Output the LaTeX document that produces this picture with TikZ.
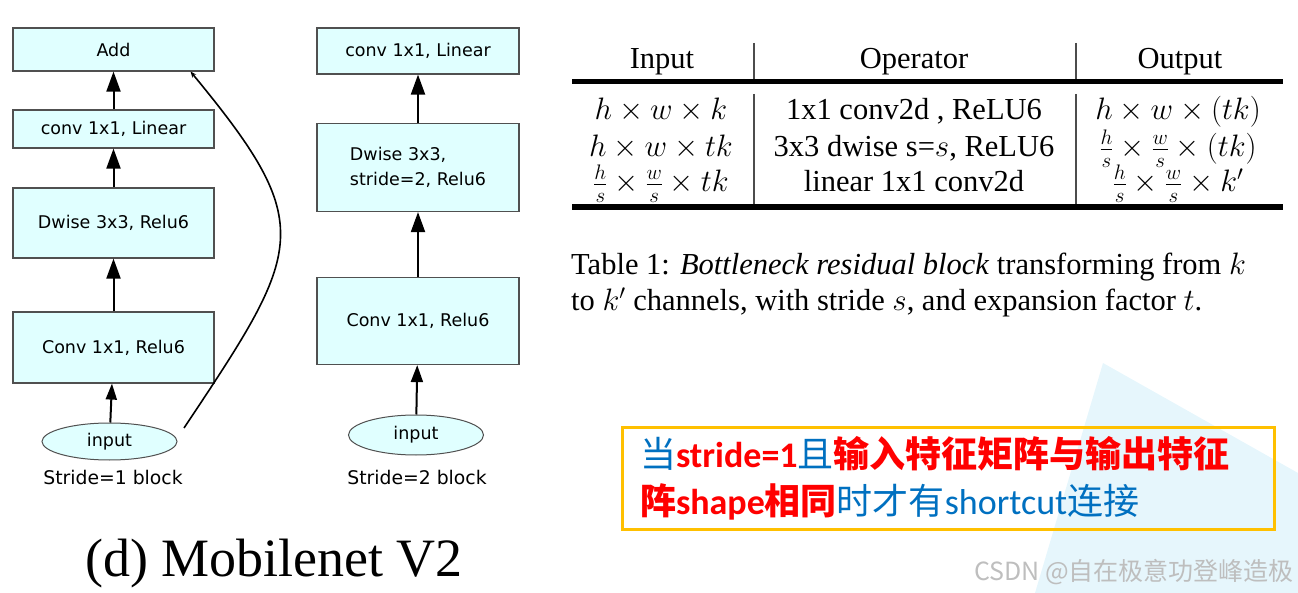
\RequirePackage{fix-cm}
\documentclass[tikz,border=0pt]{standalone}
\usepackage{fontspec}
\setmainfont{Liberation Serif}
\newfontfamily\dejavu{DejaVu Sans}
\newfontfamily\cjk{Noto Sans CJK SC}
\newfontfamily\carlito{Carlito}
\DeclareMathSizes{30.5}{31}{21}{16}
\usetikzlibrary{shapes.geometric,arrows.meta}
\definecolor{boxcyan}{RGB}{224,255,255}
\definecolor{boxline}{RGB}{80,80,80}
\definecolor{cred}{RGB}{255,0,0}
\definecolor{cblue}{RGB}{0,112,192}
\definecolor{corange}{RGB}{255,192,0}
\definecolor{wmblue}{RGB}{230,246,252}
\definecolor{wmgray}{RGB}{190,190,190}
\newcommand{\hlred}[1]{{\color{cred}\bfseries #1}}
\newcommand{\hlblue}[1]{{\color{cblue}#1}}
\begin{document}
\begin{tikzpicture}[x=1pt,y=-1pt,
    box/.style={draw=boxline,line width=1.2pt,fill=boxcyan,inner sep=0pt,
      font=\dejavu\fontsize{17.5}{25}\selectfont},
    oval/.style={ellipse,draw=boxline,line width=1pt,fill=boxcyan,
      minimum width=135pt,inner sep=0pt,font=\dejavu\fontsize{17.5}{25}\selectfont},
    arr/.style={-{Triangle[length=20pt,width=14pt]},line width=2pt},
    tab/.style={anchor=base,inner sep=0pt,font=\fontsize{30.5}{36}\selectfont},
    note/.style={draw=corange,line width=3pt,minimum height=102pt,text width=616pt,
      inner xsep=18pt,align=left,font=\cjk\fontsize{36}{47}\selectfont},
  ]
  \useasboundingbox (0,0) rectangle (1298,593);
  \fill[wmblue] (1103,363) -- (1298,473) -- (1298,593) -- (1035,593) -- cycle;
  % stride 1 block
  \draw
    (113.5,49.5) node[box,minimum width=201pt,minimum height=43pt] (add) {Add}
    (113.5,129) node[box,minimum width=201pt,minimum height=38pt] (lin1) {conv 1x1, Linear}
    (113.5,223) node[box,minimum width=201pt,minimum height=70pt] (dw1) {Dwise 3x3, Relu6}
    (113.5,347.5) node[box,minimum width=201pt,minimum height=71pt] (ex1) {Conv 1x1, Relu6}
    (109.5,441.5) node[oval,minimum height=37pt] (in1) {input}
    (113,477) node[font=\dejavu\fontsize{18.8}{25}\selectfont] (lab1) {Stride=1 block};
  % stride 2 block
  \draw
    (418,51) node[box,minimum width=202pt,minimum height=46pt] (lin2) {conv 1x1, Linear}
    (418,167.5) node[box,minimum width=202pt,minimum height=88pt,align=left] (dw2) {Dwise 3x3,\\stride=2, Relu6}
    (418,321) node[box,minimum width=202pt,minimum height=87pt] (ex2) {Conv 1x1, Relu6}
    (416,435) node[oval,minimum height=40pt] (in2) {input}
    (417,477) node[font=\dejavu\fontsize{18.8}{25}\selectfont] (lab2) {Stride=2 block};
  \coordinate (sc) at (184,428);
  \begin{scope}[arr]
    \draw (lin1) to (add);
    \draw (dw1) to (lin1);
    \draw (ex1) to (dw1);
    \draw[-{Triangle[length=16pt,width=11pt]}] (in1) to (ex1);
    \draw (dw2) to (lin2);
    \draw (ex2) to (dw2);
    \draw[-{Triangle[length=17pt,width=12pt]}] (in2) to (ex2);
  \end{scope}
  \draw[line width=1.6pt,-{Stealth[length=6pt,width=5pt]}]
    (sc) .. controls (304,248) and (318,226) .. (add.-16);
  \node[font=\fontsize{54}{60}\selectfont,anchor=base] (title) at (274,576) {(d) Mobilenet V2};
  % table
  \draw[line width=5pt] (572,82) -- (1283,82);
  \draw[line width=6pt] (572,207) -- (1283,207);
  \draw[line width=1.3pt,black!70] (754,43) -- (754,79) (754,94) -- (754,204)
    (1076,43) -- (1076,79) (1076,94) -- (1076,204);
  \draw
    (662,69) node[tab] (hin) {Input}
    (914,69) node[tab] (hop) {Operator}
    (1180,69) node[tab] (hout) {Output}
    (661,120) node[tab] (i1) {$h\times w\times k$}
    (661,157) node[tab] (i2) {$h\times w\times tk$}
    (661,192) node[tab] (i3) {$\frac{h}{s}\times\frac{w}{s}\times tk$}
    (914,120) node[tab] (o1) {1x1 conv2d , ReLU6}
    (914,157) node[tab] (o2) {3x3 dwise s=$s$, ReLU6}
    (914,192) node[tab] (o3) {linear 1x1 conv2d}
    (1178,120) node[tab] (r1) {$h\times w\times (tk)$}
    (1178,157) node[tab] (r2) {$\frac{h}{s}\times\frac{w}{s}\times (tk)$}
    (1178,192) node[tab] (r3) {$\frac{h}{s}\times\frac{w}{s}\times k'$};
  \node[tab,anchor=base west] (cap1) at (571,275)
    {Table 1: \textit{Bottleneck residual block} transforming from $k$};
  \node[tab,anchor=base west] (cap2) at (571,311)
    {to $k'$ channels, with stride $s$, and expansion factor $t$.};
  % note
  \node[note] (note) at (948,478)
    {\hlblue{当}\hlred{\carlito stride=1}\hlblue{且}\hlred{输入特征矩阵与输出特征}\\
     \hlred{阵}\hlred{\carlito shape}\hlred{相同}\hlblue{时才有}\hlblue{\carlito shortcut}\hlblue{连接}};
  \node[anchor=east,text=wmgray,inner sep=0pt,font=\cjk\fontsize{25}{25}\selectfont] (wm) at (1294,572)
    {CSDN @自在极意功登峰造极};
\end{tikzpicture}
\end{document}
